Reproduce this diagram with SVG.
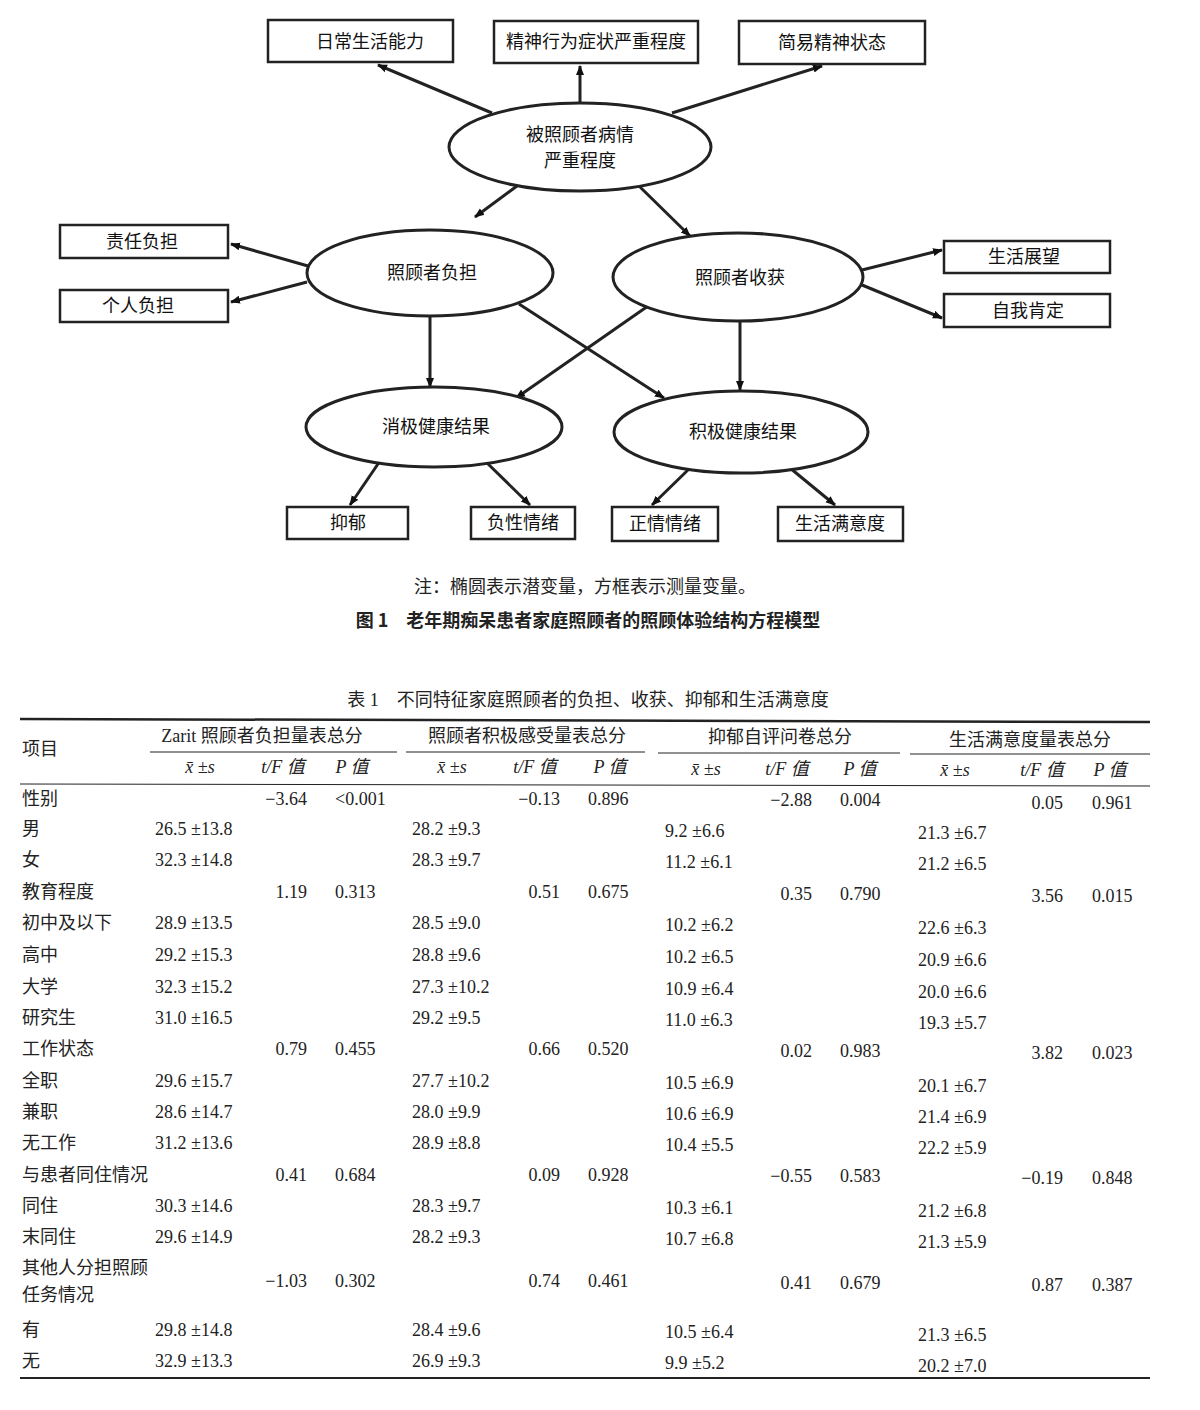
<svg xmlns="http://www.w3.org/2000/svg" width="1200" height="1410" viewBox="0 0 1200 1410">
<defs>
<marker id="ah" markerWidth="10" markerHeight="10" refX="9" refY="5" orient="auto" markerUnits="userSpaceOnUse"><path d="M0,1 L10,5 L0,9 z" fill="#111"/></marker>
<style>
.b{fill:#fff;stroke:#222;stroke-width:2.5}
.e{fill:#fff;stroke:#222;stroke-width:3}
.n{font-family:"Noto Sans CJK SC","Liberation Sans",sans-serif;font-size:18px;fill:#111;text-anchor:middle}
.c line{stroke:#222;stroke-width:3;marker-end:url(#ah)}
.t{font-family:"Liberation Serif","Noto Sans CJK SC",serif;font-size:18px;fill:#222}
.h{text-anchor:middle}
.r{text-anchor:end}
.rl{stroke:#222}
</style>
</defs>
<rect width="1200" height="1410" fill="#fff"/>
<g class="c" id="connectors">
<line x1="492" y1="113" x2="378" y2="65"/>
<line x1="580" y1="103" x2="580" y2="66"/>
<line x1="672" y1="113" x2="822" y2="66"/>
<line x1="517" y1="186" x2="475" y2="217"/>
<line x1="639" y1="186" x2="690" y2="236"/>
<line x1="308" y1="266" x2="231" y2="244"/>
<line x1="307" y1="282" x2="231" y2="302"/>
<line x1="862" y1="270" x2="942" y2="250"/>
<line x1="862" y1="285" x2="942" y2="318"/>
<line x1="430" y1="316" x2="430" y2="387"/>
<line x1="519" y1="304" x2="664" y2="398"/>
<line x1="648" y1="306" x2="516" y2="398"/>
<line x1="740" y1="321" x2="740" y2="390"/>
<line x1="380" y1="461" x2="350" y2="505"/>
<line x1="485" y1="461" x2="530" y2="505"/>
<line x1="690" y1="468" x2="652" y2="505"/>
<line x1="790" y1="468" x2="835" y2="505"/>
</g>
<g id="n1"><rect class="b" x="268" y="20" width="185" height="42"/><text class="n" x="370" y="48">日常生活能力</text></g>
<g id="n2"><rect class="b" x="494" y="21" width="204" height="42"/><text class="n" x="596" y="48">精神行为症状严重程度</text></g>
<g id="n3"><rect class="b" x="739" y="21" width="186" height="43"/><text class="n" x="832" y="49">简易精神状态</text></g>
<g id="n4"><ellipse class="e" cx="580" cy="147" rx="131" ry="44"/><text class="n" x="580" y="141">被照顾者病情</text><text class="n" x="580" y="167">严重程度</text></g>
<g id="n5"><rect class="b" x="60" y="225" width="168" height="33"/><text class="n" x="142" y="248">责任负担</text></g>
<g id="n6"><rect class="b" x="60" y="290" width="168" height="32"/><text class="n" x="138" y="312">个人负担</text></g>
<g id="n7"><ellipse class="e" cx="430" cy="273" rx="123" ry="43"/><text class="n" x="432" y="279">照顾者负担</text></g>
<g id="n8"><ellipse class="e" cx="738" cy="277" rx="125" ry="44"/><text class="n" x="740" y="284">照顾者收获</text></g>
<g id="n9"><rect class="b" x="944" y="241" width="166" height="32"/><text class="n" x="1024" y="263">生活展望</text></g>
<g id="n10"><rect class="b" x="944" y="294" width="166" height="33"/><text class="n" x="1028" y="317">自我肯定</text></g>
<g id="n11"><ellipse class="e" cx="434" cy="427" rx="128" ry="40"/><text class="n" x="436" y="433">消极健康结果</text></g>
<g id="n12"><ellipse class="e" cx="741" cy="432" rx="127" ry="41"/><text class="n" x="743" y="438">积极健康结果</text></g>
<g id="n13"><rect class="b" x="287" y="507" width="121" height="32"/><text class="n" x="348" y="529">抑郁</text></g>
<g id="n14"><rect class="b" x="471" y="507" width="104" height="32"/><text class="n" x="523" y="529">负性情绪</text></g>
<g id="n15"><rect class="b" x="612" y="507" width="106" height="34"/><text class="n" x="665" y="530">正情情绪</text></g>
<g id="n16"><rect class="b" x="778" y="507" width="125" height="34"/><text class="n" x="840" y="530">生活满意度</text></g>
<text class="t h" x="585" y="593" font-size="18">注：椭圆表示潜变量，方框表示测量变量。</text>
<text class="t h" x="588" y="627" font-size="18" font-weight="bold" style="font-family:'Noto Sans CJK SC',sans-serif">图 1　老年期痴呆患者家庭照顾者的照顾体验结构方程模型</text>
<text class="t h" x="588" y="706" font-size="19">表 1　不同特征家庭照顾者的负担、收获、抑郁和生活满意度</text>
<g id="table">
<line class="rl" x1="20" y1="719" x2="1150" y2="722" stroke-width="2.5"/>
<line class="rl" x1="150" y1="752" x2="397" y2="752"/>
<line class="rl" x1="406" y1="752" x2="645" y2="752"/>
<line class="rl" x1="658" y1="753" x2="900" y2="753"/>
<line class="rl" x1="910" y1="754" x2="1150" y2="754"/>
<line class="rl" x1="20" y1="784" x2="1150" y2="786"/>
<line class="rl" x1="20" y1="1378" x2="1150" y2="1378" stroke-width="2"/>
<text class="t" x="22" y="755">项目</text>
<text class="t h" x="262" y="742">Zarit 照顾者负担量表总分</text>
<text class="t h" x="527" y="742">照顾者积极感受量表总分</text>
<text class="t h" x="780" y="743">抑郁自评问卷总分</text>
<text class="t h" x="1030" y="746">生活满意度量表总分</text>
<g class="t h" font-style="italic">
<text x="200" y="773">x̄ ±s</text><text x="283" y="773">t/F 值</text><text x="352" y="773">P 值</text>
<text x="452" y="773">x̄ ±s</text><text x="535" y="773">t/F 值</text><text x="610" y="773">P 值</text>
<text x="706" y="775">x̄ ±s</text><text x="787" y="775">t/F 值</text><text x="860" y="775">P 值</text>
<text x="955" y="776">x̄ ±s</text><text x="1042" y="776">t/F 值</text><text x="1110" y="776">P 值</text>
</g>
<g class="t">
<text x="22" y="805">性别</text><text x="22" y="835">男</text><text x="22" y="866">女</text><text x="22" y="898">教育程度</text>
<text x="22" y="929">初中及以下</text><text x="22" y="961">高中</text><text x="22" y="993">大学</text><text x="22" y="1024">研究生</text>
<text x="22" y="1055">工作状态</text><text x="22" y="1087">全职</text><text x="22" y="1118">兼职</text><text x="22" y="1149">无工作</text>
<text x="22" y="1181">与患者同住情况</text><text x="22" y="1212">同住</text><text x="22" y="1243">末同住</text>
<text x="22" y="1274">其他人分担照顾</text><text x="22" y="1301">任务情况</text><text x="22" y="1336">有</text><text x="22" y="1367">无</text>
</g>
<g class="t">
<text x="155" y="835">26.5 ±13.8</text><text x="155" y="866">32.3  ±14.8</text><text x="155" y="929">28.9 ±13.5</text><text x="155" y="961">29.2 ±15.3</text><text x="155" y="993">32.3 ±15.2</text><text x="155" y="1024">31.0 ±16.5</text><text x="155" y="1087">29.6 ±15.7</text><text x="155" y="1118">28.6 ±14.7</text><text x="155" y="1149">31.2 ±13.6</text><text x="155" y="1212">30.3 ±14.6</text><text x="155" y="1243">29.6 ±14.9</text><text x="155" y="1336">29.8 ±14.8</text><text x="155" y="1367">32.9 ±13.3</text>
<text x="412" y="835">28.2 ±9.3</text><text x="412" y="866">28.3 ±9.7</text><text x="412" y="929">28.5 ±9.0</text><text x="412" y="961">28.8 ±9.6</text><text x="412" y="993">27.3 ±10.2</text><text x="412" y="1024">29.2 ±9.5</text><text x="412" y="1087">27.7 ±10.2</text><text x="412" y="1118">28.0 ±9.9</text><text x="412" y="1149">28.9 ±8.8</text><text x="412" y="1212">28.3 ±9.7</text><text x="412" y="1243">28.2 ±9.3</text><text x="412" y="1336">28.4 ±9.6</text><text x="412" y="1367">26.9 ±9.3</text>
<text x="665" y="837">9.2 ±6.6</text><text x="665" y="868">11.2  ±6.1</text><text x="665" y="931">10.2 ±6.2</text><text x="665" y="963">10.2 ±6.5</text><text x="665" y="995">10.9 ±6.4</text><text x="665" y="1026">11.0 ±6.3</text><text x="665" y="1089">10.5 ±6.9</text><text x="665" y="1120">10.6 ±6.9</text><text x="665" y="1151">10.4  ±5.5</text><text x="665" y="1214">10.3 ±6.1</text><text x="665" y="1245">10.7 ±6.8</text><text x="665" y="1338">10.5 ±6.4</text><text x="665" y="1369">9.9 ±5.2</text>
<text x="918" y="839">21.3 ±6.7</text><text x="918" y="870">21.2 ±6.5</text><text x="918" y="934">22.6 ±6.3</text><text x="918" y="966">20.9 ±6.6</text><text x="918" y="998">20.0 ±6.6</text><text x="918" y="1029">19.3 ±5.7</text><text x="918" y="1092">20.1 ±6.7</text><text x="918" y="1123">21.4 ±6.9</text><text x="918" y="1154">22.2 ±5.9</text><text x="918" y="1217">21.2 ±6.8</text><text x="918" y="1248">21.3 ±5.9</text><text x="918" y="1341">21.3 ±6.5</text><text x="918" y="1372">20.2 ±7.0</text>
</g>
<g class="t r">
<text x="307" y="805">−3.64</text><text x="307" y="898">1.19</text><text x="307" y="1055">0.79</text><text x="307" y="1181">0.41</text><text x="307" y="1287">−1.03</text>
<text x="560" y="805">−0.13</text><text x="560" y="898">0.51</text><text x="560" y="1055">0.66</text><text x="560" y="1181">0.09</text><text x="560" y="1287">0.74</text>
<text x="812" y="806">−2.88</text><text x="812" y="900">0.35</text><text x="812" y="1057">0.02</text><text x="812" y="1182">−0.55</text><text x="812" y="1289">0.41</text>
<text x="1063" y="809">0.05</text><text x="1063" y="902">3.56</text><text x="1063" y="1059">3.82</text><text x="1063" y="1184">−0.19</text><text x="1063" y="1291">0.87</text>
</g>
<g class="t">
<text x="335" y="805">&lt;0.001</text><text x="335" y="898">0.313</text><text x="335" y="1055">0.455</text><text x="335" y="1181">0.684</text><text x="335" y="1287">0.302</text>
<text x="588" y="805">0.896</text><text x="588" y="898">0.675</text><text x="588" y="1055">0.520</text><text x="588" y="1181">0.928</text><text x="588" y="1287">0.461</text>
<text x="840" y="806">0.004</text><text x="840" y="900">0.790</text><text x="840" y="1057">0.983</text><text x="840" y="1182">0.583</text><text x="840" y="1289">0.679</text>
<text x="1092" y="809">0.961</text><text x="1092" y="902">0.015</text><text x="1092" y="1059">0.023</text><text x="1092" y="1184">0.848</text><text x="1092" y="1291">0.387</text>
</g>
</g>
</svg>
